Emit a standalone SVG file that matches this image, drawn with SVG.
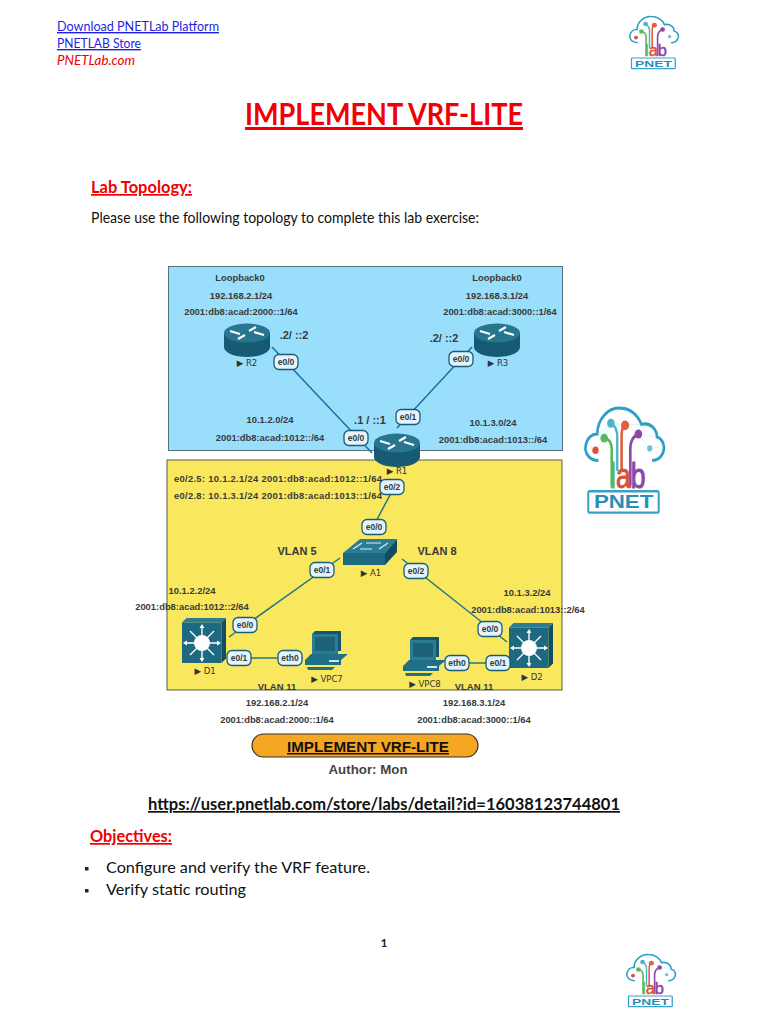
<svg xmlns="http://www.w3.org/2000/svg" xmlns:xlink="http://www.w3.org/1999/xlink" width="768" height="1024" viewBox="0 0 768 1024">
<style>
.pg{font-family:Lato,"Liberation Sans",sans-serif}
.lnk{font-size:14px;fill:#1f1fe0;text-decoration:underline}
.hd{font-weight:700;font-size:17px;fill:#f00000;text-decoration:underline}
.bd{font-size:15px;fill:#111}
.t{font-family:"Liberation Sans",Arial,sans-serif;font-weight:700;font-size:9.400px;fill:#3a3a3a;text-anchor:middle}
.v{font-size:11px}
.n{font-family:"DejaVu Sans","Liberation Sans",sans-serif;font-size:8.500px;fill:#333;text-anchor:middle}
.pl{fill:#e6f3fa;stroke:#175d78;stroke-width:1.3}
.pt{font-family:"Liberation Sans",Arial,sans-serif;font-size:8.500px;font-weight:700;fill:#2e3d45;text-anchor:middle}
.lb{stroke:#1c6ea4;stroke-width:1.5;fill:none}
.lt{stroke:#1f7a80;stroke-width:1.5;fill:none}
</style>
<defs>
<g id="pill"><rect class="pl" x="-12" y="-7.500" width="24" height="15" rx="5"/></g>
<g id="router">
<path d="M-23 0V14C-23 20-12 24 0 24S23 20 23 14V0Z" fill="#175a73"/>
<ellipse cx="0" cy="0" rx="23" ry="9.500" fill="#27768f"/>
<path d="M-17-2L-7 1M17 2L7-1M-9 6L-2 2M9-6L2-2" stroke="#fff" stroke-width="2.200" fill="none"/>
</g>
<g id="l3sw">
<path d="M0 4.500L4.500 0H44L39.500 4.500Z" fill="#2c7d93"/>
<path d="M39.500 4.500L44 0V40.500L39.500 45Z" fill="#134d63"/>
<rect x="0" y="4.500" width="39.500" height="40.500" fill="#1d6a80"/>
<circle cx="20" cy="25" r="8" fill="#fff"/>
<path d="M20 25V8M20 25V42M20 25H3M20 25H37M20 25L8 13M20 25L32 13M20 25L8 37M20 25L32 37" stroke="#fff" stroke-width="1.400"/>
<path d="M17.500 10L20 6 22.500 10ZM17.500 40L20 44 22.500 40ZM5 22.500L1 25 5 27.500ZM35 22.500L39 25 35 27.500Z" fill="#fff"/>
</g>
<g id="pc">
<path d="M7 3L10 0H36V20H7Z" fill="#14566e"/>
<path d="M7 3H33V23H7Z" fill="#2b7c92"/>
<rect x="10" y="6" width="20" height="14" fill="#1c6378"/>
<path d="M0 29L6 23H43L36 29V34H0Z" fill="#1f6f86"/>
<rect x="24" y="29" width="10" height="2" fill="#cfe3ea"/>
<path d="M2 36H30L27 39H3Z" fill="#1f6f86"/>
</g>
<g id="logo">
<path d="M60 190C30 190 12 170 16 148C20 125 38 112 56 113C56 70 95 35 135 38C170 38 196 58 208 85C240 78 262 100 262 122C285 128 292 155 280 172C272 186 258 190 245 190" fill="none" stroke="#2c9fc9" stroke-width="9"/>
<path d="M50 160L80 125L103 82L152 88L198 113L237 155M103 82L60 112M152 88L205 85M198 113L260 122M237 155L280 150" fill="none" stroke="#bfe2ef" stroke-width="1.500"/>
<path d="M80 125C100 128 106 140 106 160V268" fill="none" stroke="#58b95a" stroke-width="9"/>
<path d="M103 82C118 90 125 100 125 120V220" fill="none" stroke="#4eb3c9" stroke-width="8"/>
<path d="M152 88C142 92 140 102 140 118V220" fill="none" stroke="#e0603e" stroke-width="9"/>
<path d="M198 113C178 120 170 135 170 155V262" fill="none" stroke="#8a48a8" stroke-width="9"/>
<circle cx="80" cy="125" r="13" fill="#58b95a"/><circle cx="103" cy="82" r="13" fill="#4eb3c9"/><circle cx="152" cy="88" r="14" fill="#e0603e"/><circle cx="198" cy="113" r="13" fill="#8a48a8"/><circle cx="50" cy="160" r="11" fill="#d9533a"/><circle cx="237" cy="155" r="9" fill="#6cc1dc"/>
<text font-family="'Liberation Sans',Arial,sans-serif" font-size="100" stroke-width="3" y="270" x="100" textLength="122" lengthAdjust="spacingAndGlyphs"><tspan fill="#58b95a" stroke="#58b95a">l</tspan><tspan fill="#d9533a" stroke="#d9533a">a</tspan><tspan fill="#8a48a8" stroke="#8a48a8">b</tspan></text>
<rect x="25" y="279" width="243" height="62" rx="4" fill="#fff" stroke="#3aa0c6" stroke-width="7"/>
<text x="147" y="329" font-family="'Liberation Sans',Arial,sans-serif" font-weight="700" font-size="54" fill="#2a8fb8" text-anchor="middle" textLength="205" lengthAdjust="spacingAndGlyphs">PNET</text>
</g>
</defs>
<rect width="768" height="1024" fill="#fff"/>

<g id="page-text" class="pg">
<text class="lnk" x="57" y="31" textLength="162" lengthAdjust="spacingAndGlyphs">Download PNETLab Platform</text>
<text class="lnk" x="57" y="48" textLength="84" lengthAdjust="spacingAndGlyphs">PNETLAB Store</text>
<text x="57" y="65" font-size="14" font-style="italic" fill="#f00000" textLength="78" lengthAdjust="spacingAndGlyphs">PNETLab.com</text>
<text x="245" y="125" font-size="30" font-weight="700" fill="#f00000" text-decoration="underline" textLength="278" lengthAdjust="spacingAndGlyphs">IMPLEMENT VRF-LITE</text>
<text class="hd" x="91" y="193" textLength="101" lengthAdjust="spacingAndGlyphs">Lab Topology:</text>
<text class="bd" x="91" y="223" font-size="13.500" textLength="388" lengthAdjust="spacingAndGlyphs">Please use the following topology to complete this lab exercise:</text>
<text x="148" y="810" font-size="17" font-weight="700" fill="#111" text-decoration="underline" textLength="472" lengthAdjust="spacingAndGlyphs">https://user.pnetlab.com/store/labs/detail?id=16038123744801</text>
<text class="hd" x="90" y="842" textLength="82" lengthAdjust="spacingAndGlyphs">Objectives:</text>
<rect x="85" y="867" width="3.500" height="3.500" fill="#222"/>
<rect x="85" y="889" width="3.500" height="3.500" fill="#222"/>
<text class="bd" x="106" y="873" font-size="15.500" textLength="264" lengthAdjust="spacingAndGlyphs">Configure and verify the VRF feature.</text>
<text class="bd" x="106" y="895" font-size="15.500" textLength="140" lengthAdjust="spacingAndGlyphs">Verify static routing</text>
<text x="384" y="947" font-size="12" font-weight="700" fill="#222" text-anchor="middle">1</text>
</g>

<g id="logos">
<use xlink:href="#logo" href="#logo" transform="translate(627,10) scale(.18,.172)"/>
<use xlink:href="#logo" href="#logo" transform="translate(581,395) scale(.29,.345)"/>
<use xlink:href="#logo" href="#logo" transform="translate(624,948) scale(.18,.172)"/>
</g>

<g id="zones">
<rect x="168.500" y="266.500" width="394" height="184" fill="#99defb" stroke="#56707c" stroke-width="1"/>
<rect x="167" y="460" width="395" height="230" fill="#f9e75e" stroke="#57604a" stroke-width="1"/>
</g>

<g id="connectors">
<path class="lb" d="M272 347L372 453"/>
<path class="lb" d="M472 347L397 428"/>
<path class="lt" d="M398 480L373 527"/>
<path class="lt" d="M340 558L229 637"/>
<path class="lt" d="M402 559L507 642"/>
<path class="lt" d="M228 658H303"/>
<path class="lt" d="M445 663H508"/>
</g>

<g id="R2"><use href="#router" x="247" y="333"/><text class="n" x="247" y="366">▶ R2</text></g>
<g id="R3"><use href="#router" x="497" y="333"/><text class="n" x="498" y="366">▶ R3</text></g>
<g id="R1"><use href="#router" x="397" y="443"/><text class="n" x="397" y="474">▶ R1</text></g>
<g id="A1">
<path d="M343 553L360 539H397L385 553Z" fill="#2c7d93"/>
<path d="M343 553H385V565H343Z" fill="#1d6a80"/>
<path d="M385 553L397 539V552L385 565Z" fill="#134d63"/>
<path d="M353 549L362 543M379 549L388 543M360 549H372M366 543H381" stroke="#dbeef4" stroke-width="1.200"/>
<text class="n" x="371" y="576">▶ A1</text>
</g>
<g id="D1"><use href="#l3sw" x="182" y="618"/><text class="n" x="205" y="674">▶ D1</text></g>
<g id="D2"><use href="#l3sw" x="509" y="623"/><text class="n" x="532" y="680">▶ D2</text></g>
<g id="VPC7"><use href="#pc" x="305" y="631"/><text class="n" x="327" y="682">▶ VPC7</text></g>
<g id="VPC8"><use href="#pc" x="403" y="637"/><text class="n" x="425" y="687">▶ VPC8</text></g>

<g id="ports">
<use href="#pill" x="286" y="362"/><text class="pt" x="286" y="365">e0/0</text>
<use href="#pill" x="461" y="359"/><text class="pt" x="461" y="362">e0/0</text>
<use href="#pill" x="408" y="417"/><text class="pt" x="408" y="420">e0/1</text>
<use href="#pill" x="356" y="438"/><text class="pt" x="356" y="441">e0/0</text>
<use href="#pill" x="392" y="487"/><text class="pt" x="392" y="490">e0/2</text>
<use href="#pill" x="374" y="527"/><text class="pt" x="374" y="530">e0/0</text>
<use href="#pill" x="322" y="570"/><text class="pt" x="322" y="573">e0/1</text>
<use href="#pill" x="416" y="571"/><text class="pt" x="416" y="574">e0/2</text>
<use href="#pill" x="245" y="625"/><text class="pt" x="245" y="628">e0/0</text>
<use href="#pill" x="239" y="658"/><text class="pt" x="239" y="661">e0/1</text>
<use href="#pill" x="290" y="658"/><text class="pt" x="290" y="661">eth0</text>
<use href="#pill" x="457" y="663"/><text class="pt" x="457" y="666">eth0</text>
<use href="#pill" x="498" y="663"/><text class="pt" x="498" y="666">e0/1</text>
<use href="#pill" x="490" y="629"/><text class="pt" x="490" y="632">e0/0</text>
</g>

<g id="labels">
<text class="t" x="240" y="280.500">Loopback0</text>
<text class="t" x="241" y="299">192.168.2.1/24</text>
<text class="t" x="241" y="315">2001:db8:acad:2000::1/64</text>
<text class="t" x="497" y="280.500">Loopback0</text>
<text class="t" x="497" y="299">192.168.3.1/24</text>
<text class="t" x="500" y="315">2001:db8:acad:3000::1/64</text>
<text class="t v" x="294" y="339">.2/ ::2</text>
<text class="t v" x="444" y="342">.2/ ::2</text>
<text class="t v" x="370" y="424">.1 / ::1</text>
<text class="t" x="270" y="423">10.1.2.0/24</text>
<text class="t" x="270" y="441">2001:db8:acad:1012::/64</text>
<text class="t" x="493" y="426">10.1.3.0/24</text>
<text class="t" x="493" y="443">2001:db8:acad:1013::/64</text>
<text class="t" x="174" y="482" style="text-anchor:start" textLength="208">e0/2.5: 10.1.2.1/24 2001:db8:acad:1012::1/64</text>
<text class="t" x="174" y="499" style="text-anchor:start" textLength="208">e0/2.8: 10.1.3.1/24 2001:db8:acad:1013::1/64</text>
<text class="t v" x="297" y="555">VLAN 5</text>
<text class="t v" x="437" y="555">VLAN 8</text>
<text class="t" x="192" y="594">10.1.2.2/24</text>
<text class="t" x="192" y="610">2001:db8:acad:1012::2/64</text>
<text class="t" x="527" y="596">10.1.3.2/24</text>
<text class="t" x="528" y="613">2001:db8:acad:1013::2/64</text>
<text class="t" x="277" y="689.500" style="font-size:9.500px">VLAN 11</text>
<text class="t" x="474" y="689.500" style="font-size:9.500px">VLAN 11</text>
<text class="t" x="277" y="706">192.168.2.1/24</text>
<text class="t" x="277" y="723">2001:db8:acad:2000::1/64</text>
<text class="t" x="474" y="706">192.168.3.1/24</text>
<text class="t" x="474" y="723">2001:db8:acad:3000::1/64</text>
</g>

<g id="banner">
<rect x="252" y="734" width="226" height="23" rx="11.500" fill="#f5a623" stroke="#333" stroke-width="1.200"/>
<text x="368" y="752" font-family="'Liberation Sans',Arial,sans-serif" font-weight="700" font-size="14.500" fill="#111" text-anchor="middle" text-decoration="underline" textLength="162" lengthAdjust="spacingAndGlyphs">IMPLEMENT VRF-LITE</text>
<text x="368" y="774" font-family="'Liberation Sans',Arial,sans-serif" font-weight="700" font-size="13.300" fill="#444" text-anchor="middle">Author: Mon</text>
</g>
</svg>
